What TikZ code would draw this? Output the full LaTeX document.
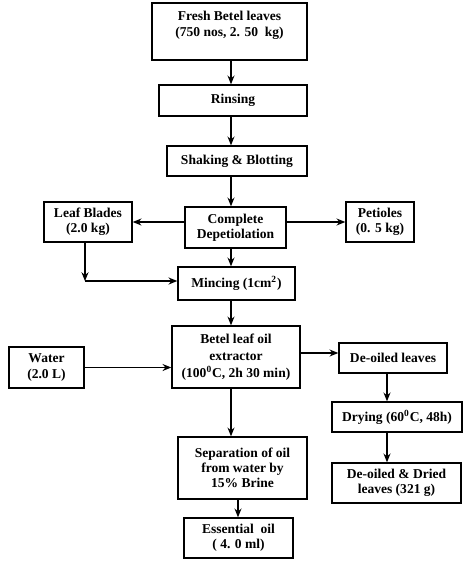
\documentclass[tikz,border=0pt]{standalone}
\usepackage{fontspec}
\setmainfont{Liberation Serif}
\usetikzlibrary{arrows.meta}

\tikzset{
    stage/.style={draw, line width=0.8pt, align=center, inner sep=1pt,
        font=\fontsize{7.7}{8.7}\selectfont\bfseries},
    flow/.style={line width=0.6pt, -{Stealth[length=5pt,width=4pt]}}
}

\begin{document}
\begin{tikzpicture}[x=0.02cm, y=-0.02cm]

            \useasboundingbox (0,0) rectangle (474,566);

            \node[stage, minimum width=3.10cm, minimum height=1.14cm] (fresh) at (229.5,31.5)
                {Fresh Betel leaves\\(750 nos, 2. 50\ \ kg)\\\mbox{}};
            \node[stage, minimum width=2.96cm, minimum height=0.62cm] (rinse) at (233,100.5) {Rinsing};
            \node[stage, minimum width=2.80cm, minimum height=0.60cm] (shake) at (237,161) {Shaking \& Blotting};
            \node[stage, minimum width=2.02cm, minimum height=0.82cm] (depet) at (235.5,227.5) {Complete\\Depetiolation};
            \node[stage, minimum width=1.76cm, minimum height=0.80cm] (blades) at (88,222) {Leaf Blades\\(2.0 kg)};
            \node[stage, minimum width=1.36cm, minimum height=0.80cm] (petioles) at (380,222) {Petioles\\(0. 5 kg)};
            \node[stage, minimum width=2.34cm, minimum height=0.66cm] (mincing) at (236.5,283.5)
                {Mincing (1cm\textsuperscript{2})};
            \node[stage, minimum width=2.56cm, minimum height=1.24cm,
                font=\fontsize{7.7}{9.6}\selectfont\bfseries] (extractor) at (236,357)
                {Betel leaf oil\\extractor\\(100\textsuperscript{0}C, 2h 30 min)};
            \node[stage, minimum width=1.50cm, minimum height=0.82cm] (water) at (46.5,367.5) {Water\\(2.0 L)};
            \node[stage, minimum width=2.16cm, minimum height=0.60cm] (deoiled) at (393,358) {De-oiled leaves};
            \node[stage, minimum width=2.60cm, minimum height=0.60cm] (drying) at (397,417)
                {Drying (60\textsuperscript{0}C, 48h)};
            \node[stage, minimum width=2.58cm, minimum height=0.80cm] (dried) at (396.5,483)
                {De-oiled \& Dried\\leaves (321 g)};
            \node[stage, minimum width=2.58cm, minimum height=1.24cm] (separation) at (242.5,468)
                {Separation of oil\\from water by\\15\% Brine};
            \node[stage, minimum width=2.18cm, minimum height=0.80cm] (oil) at (238.5,538)
                {Essential\ \ oil\\( 4. 0 ml)};

            \coordinate (mainline) at (231,0);
            \coordinate (oilline) at (238,0);
            \coordinate (leafline) at (387,0);
            \coordinate (bend) at (85,281);

            \draw[flow] (fresh.south -| mainline) -- (rinse.north -| mainline);
            \draw[flow] (rinse.south -| mainline) -- (shake.north -| mainline);
            \draw[flow] (shake.south -| mainline) -- (depet.north -| mainline);
            \draw[flow] (depet.south -| mainline) -- (mincing.north -| mainline);
            \draw[flow] (mincing.south -| mainline) -- (extractor.north -| mainline);
            \draw[flow] (extractor.south -| mainline) -- (separation.north -| mainline);
            \draw[flow] (separation.south -| oilline) -- (oil.north -| oilline);

            \draw[flow] (depet.west |- blades.east) -- (blades.east);
            \draw[flow] (depet.east |- petioles.west) -- (petioles.west);
            \draw[flow] (blades.south -| bend) -- (bend);
            \draw[flow, line width=0.9pt] (bend) -- (mincing.west |- bend);

            \draw[flow] (water.east) -- (extractor.west |- water.east);
            \draw[flow] (extractor.east |- 0,353) -- (deoiled.west |- 0,353);
            \draw[flow] (deoiled.south -| leafline) -- (drying.north -| leafline);
            \draw[flow] (drying.south -| leafline) -- (dried.north -| leafline);

\end{tikzpicture}
\end{document}
